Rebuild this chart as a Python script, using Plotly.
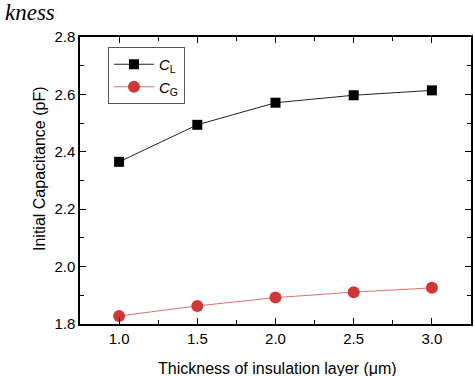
import plotly.graph_objects as go

thickness = [1.0, 1.5, 2.0, 2.5, 3.0]
c_l = [2.365, 2.494, 2.571, 2.597, 2.614]
c_g = [1.828, 1.863, 1.892, 1.911, 1.926]
x_ticks = [1.0, 1.5, 2.0, 2.5, 3.0]
x_tick_labels = ["1.0", "1.5", "2.0", "2.5", "3.0"]
y_ticks = [1.8, 2.0, 2.2, 2.4, 2.6, 2.8]
y_tick_labels = ["1.8", "2.0", "2.2", "2.4", "2.6", "2.8"]

W, H = 474, 376
L, R, T, B = 80, 3, 37, 52
PW, PH = W - L - R, H - T - B
FONT = "Liberation Sans, Arial"


def px(xp):
    return (xp - L) / PW


def py(yp):
    return 1 - (yp - T) / PH


fig = go.Figure()
fig.add_trace(go.Scatter(
    x=thickness, y=c_l, mode="lines+markers", name="<i>C</i><sub>L</sub>",
    line=dict(color="#222222", width=1),
    marker=dict(symbol="square", size=10, color="black"),
))
fig.add_trace(go.Scatter(
    x=thickness, y=c_g, mode="lines+markers", name="<i>C</i><sub>G</sub>",
    line=dict(color="#e07070", width=1),
    marker=dict(symbol="circle", size=12, color="#d03838"),
))

axis_common = dict(
    showline=True, linecolor="black", linewidth=1.5, mirror="ticks",
    ticks="inside", ticklen=6, tickwidth=1, tickcolor="black",
    showgrid=False, zeroline=False, automargin=False,
    tickfont=dict(family=FONT, size=15, color="black"),
)

fig.update_layout(
    width=W, height=H,
    margin=dict(l=L, r=R, t=T, b=B, autoexpand=False),
    paper_bgcolor="white", plot_bgcolor="white",
    showlegend=True,
    legend=dict(
        x=px(108), y=py(47),
        xanchor="left", yanchor="top",
        bordercolor="#555555", borderwidth=1, bgcolor="white",
        font=dict(family=FONT, size=15, color="black"),
        tracegroupgap=0, itemwidth=40,
    ),
    xaxis=dict(
        axis_common, range=[0.75, 3.25],
        tickvals=x_ticks, ticktext=x_tick_labels,
        minor=dict(ticks="inside", ticklen=4, dtick=0.25, tickcolor="black"),
    ),
    yaxis=dict(
        axis_common, range=[1.8, 2.8],
        tickvals=y_ticks, ticktext=y_tick_labels,
        minor=dict(ticks="inside", ticklen=4, dtick=0.1, tickcolor="black"),
    ),
)

fig.add_annotation(
    text="Thickness of insulation layer (μm)", xref="paper", yref="paper",
    x=px(277), y=py(368), xanchor="center", yanchor="middle", showarrow=False,
    font=dict(family=FONT, size=16, color="black"),
)
fig.add_annotation(
    text="Initial Capacitance (pF)", xref="paper", yref="paper",
    x=px(39), y=py(169), xanchor="center", yanchor="middle", showarrow=False,
    textangle=-90,
    font=dict(family=FONT, size=16, color="black"),
)
fig.add_annotation(
    text="<i>kness</i>", xref="paper", yref="paper",
    x=px(57), y=py(27),
    xanchor="right", yanchor="bottom", showarrow=False,
    font=dict(family="Liberation Serif, Times New Roman", size=23, color="black"),
)

fig.write_html("out.html", config={"displayModeBar": False},
               post_script="document.body.style.margin='0';")
